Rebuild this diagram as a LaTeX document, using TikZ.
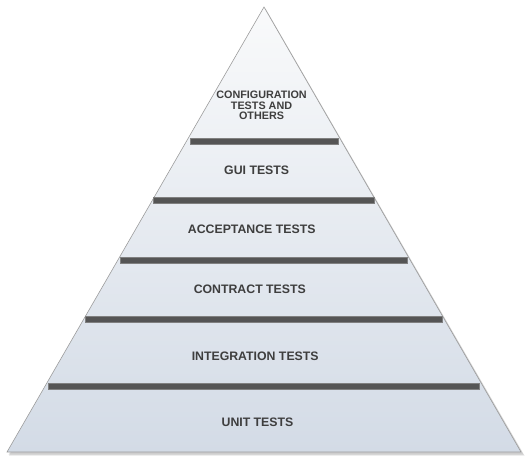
\documentclass[tikz,border=0pt]{standalone}
\usepackage{fontspec}
\setmainfont{Liberation Sans}
\definecolor{txt}{HTML}{3E3E3E}
\definecolor{barc}{HTML}{555555}
\definecolor{baredge}{HTML}{808080}
\definecolor{edgec}{HTML}{9C9C9C}
\definecolor{topc}{HTML}{F9FAFB}
\definecolor{botc}{HTML}{D3DBE6}
\begin{document}
\begin{tikzpicture}[x=1pt,y=-1pt,
  lbl/.style={font=\fontsize{12.3}{14}\selectfont\bfseries, text=txt, inner sep=0pt},
  cfg/.style={font=\fontsize{10.8}{10.5}\selectfont\bfseries, text=txt, inner sep=0pt, align=center},
  barstyle/.style={fill=barc, draw=baredge, line width=0.4pt},
  shadowstyle/.style={fill=black, opacity=0.10}]
\useasboundingbox (0,0) rectangle (532,468);
% shadow
\fill[shadowstyle] (265.5,8.5) -- (523.5,454.5) -- (8.5,454.5) -- cycle;
\fill[shadowstyle] (266,9.5) -- (524.5,455.5) -- (9,455.5) -- cycle;
% pyramid
\shade[top color=topc, bottom color=botc, draw=edgec, line width=0.6pt]
  (264,7) -- (521,452) -- (7,452) -- cycle;
% bars
\foreach \yc/\hw in {141/74, 200.3/110.5, 259.7/143.5, 319/178.5, 386.2/215.5}
  \draw[barstyle] ({264-\hw},{\yc-3}) rectangle ({264+\hw},{\yc+3});
% labels
\node[cfg] (config) at (261.5,105.7) {CONFIGURATION\\TESTS AND\\OTHERS};
\node[lbl] (gui) at (256.7,170) {GUI TESTS};
\node[lbl] (acceptance) at (251.7,229.7) {ACCEPTANCE TESTS};
\node[lbl] (contract) at (249.8,288.8) {CONTRACT TESTS};
\node[lbl] (integration) at (255.2,355.8) {INTEGRATION TESTS};
\node[lbl] (unit) at (257.5,422.2) {UNIT TESTS};
\end{tikzpicture}
\end{document}
